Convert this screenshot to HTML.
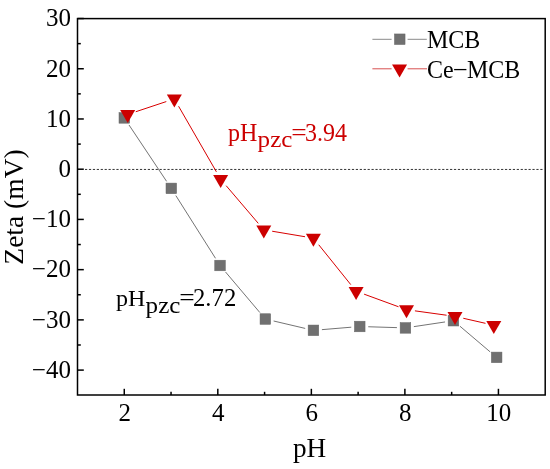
<!DOCTYPE html>
<html><head><meta charset="utf-8"><style>
html,body{margin:0;padding:0;background:#fff;}
svg{display:block;}
text{font-family:"Liberation Serif","Times New Roman",serif;fill:#000;}
</style></head><body>
<svg width="550" height="469" viewBox="0 0 550 469">
<rect width="550" height="469" fill="#fff"/>
<line x1="85" y1="169.45" x2="543" y2="169.45" stroke="#333" stroke-width="1" stroke-dasharray="2.2 1.725"/>
<line x1="129.01" y1="124.97" x2="166.59" y2="181.33" stroke="#747474" stroke-width="1"/>
<line x1="175.84" y1="195.58" x2="215.51" y2="258.32" stroke="#747474" stroke-width="1"/>
<line x1="225.54" y1="271.99" x2="259.86" y2="312.56" stroke="#747474" stroke-width="1"/>
<line x1="273.62" y1="320.99" x2="305.18" y2="328.41" stroke="#747474" stroke-width="1"/>
<line x1="321.92" y1="329.65" x2="351.28" y2="327.2" stroke="#747474" stroke-width="1"/>
<line x1="368.25" y1="326.76" x2="396.95" y2="327.64" stroke="#747474" stroke-width="1"/>
<line x1="413.86" y1="326.64" x2="445.04" y2="321.96" stroke="#747474" stroke-width="1"/>
<line x1="459.93" y1="326.2" x2="490.17" y2="351.9" stroke="#747474" stroke-width="1"/>
<rect x="119" y="112.6" width="10.6" height="10.6" fill="#707070" stroke="#666" stroke-width="0.5"/>
<rect x="166" y="183.1" width="10.6" height="10.6" fill="#707070" stroke="#666" stroke-width="0.5"/>
<rect x="214.75" y="260.2" width="10.6" height="10.6" fill="#707070" stroke="#666" stroke-width="0.5"/>
<rect x="260.05" y="313.75" width="10.6" height="10.6" fill="#707070" stroke="#666" stroke-width="0.5"/>
<rect x="308.15" y="325.05" width="10.6" height="10.6" fill="#707070" stroke="#666" stroke-width="0.5"/>
<rect x="354.45" y="321.2" width="10.6" height="10.6" fill="#707070" stroke="#666" stroke-width="0.5"/>
<rect x="400.15" y="322.6" width="10.6" height="10.6" fill="#707070" stroke="#666" stroke-width="0.5"/>
<rect x="448.15" y="315.4" width="10.6" height="10.6" fill="#707070" stroke="#666" stroke-width="0.5"/>
<rect x="491.35" y="352.1" width="10.6" height="10.6" fill="#707070" stroke="#666" stroke-width="0.5"/>
<line x1="135.76" y1="111.74" x2="166.29" y2="101.57" stroke="#d80000" stroke-width="1"/>
<line x1="178.59" y1="106.24" x2="216.41" y2="171.87" stroke="#d80000" stroke-width="1"/>
<line x1="226.17" y1="185.7" x2="258.28" y2="223.36" stroke="#d80000" stroke-width="1"/>
<line x1="272.18" y1="231.23" x2="305.02" y2="236.73" stroke="#d80000" stroke-width="1"/>
<line x1="318.73" y1="244.75" x2="350.77" y2="284.61" stroke="#d80000" stroke-width="1"/>
<line x1="364.08" y1="294.15" x2="398.52" y2="306.76" stroke="#d80000" stroke-width="1"/>
<line x1="414.92" y1="310.85" x2="446.58" y2="315.23" stroke="#d80000" stroke-width="1"/>
<line x1="463.29" y1="318.28" x2="485.51" y2="323.34" stroke="#d80000" stroke-width="1"/>
<polygon points="120.2,110.1 135.2,110.1 127.7,123.09" fill="#cc0000"/>
<polygon points="166.85,94.55 181.85,94.55 174.35,107.54" fill="#cc0000"/>
<polygon points="213.15,174.9 228.15,174.9 220.65,187.89" fill="#cc0000"/>
<polygon points="256.3,225.5 271.3,225.5 263.8,238.49" fill="#cc0000"/>
<polygon points="305.9,233.8 320.9,233.8 313.4,246.79" fill="#cc0000"/>
<polygon points="348.6,286.9 363.6,286.9 356.1,299.89" fill="#cc0000"/>
<polygon points="399,305.35 414,305.35 406.5,318.34" fill="#cc0000"/>
<polygon points="447.5,312.06 462.5,312.06 455,325.05" fill="#cc0000"/>
<polygon points="486.3,320.9 501.3,320.9 493.8,333.89" fill="#cc0000"/>
<rect x="77.5" y="18.6" width="467.7" height="376.4" fill="none" stroke="#000" stroke-width="1.5"/>
<line x1="77.5" y1="370.1" x2="83.8" y2="370.1" stroke="#000" stroke-width="1.5"/>
<line x1="77.5" y1="319.88" x2="83.8" y2="319.88" stroke="#000" stroke-width="1.5"/>
<line x1="77.5" y1="269.65" x2="83.8" y2="269.65" stroke="#000" stroke-width="1.5"/>
<line x1="77.5" y1="219.42" x2="83.8" y2="219.42" stroke="#000" stroke-width="1.5"/>
<line x1="77.5" y1="169.2" x2="83.8" y2="169.2" stroke="#000" stroke-width="1.5"/>
<line x1="77.5" y1="118.97" x2="83.8" y2="118.97" stroke="#000" stroke-width="1.5"/>
<line x1="77.5" y1="68.75" x2="83.8" y2="68.75" stroke="#000" stroke-width="1.5"/>
<line x1="77.5" y1="18.52" x2="83.8" y2="18.52" stroke="#000" stroke-width="1.5"/>
<line x1="77.5" y1="344.99" x2="80.8" y2="344.99" stroke="#000" stroke-width="1.5"/>
<line x1="77.5" y1="294.76" x2="80.8" y2="294.76" stroke="#000" stroke-width="1.5"/>
<line x1="77.5" y1="244.54" x2="80.8" y2="244.54" stroke="#000" stroke-width="1.5"/>
<line x1="77.5" y1="194.31" x2="80.8" y2="194.31" stroke="#000" stroke-width="1.5"/>
<line x1="77.5" y1="144.09" x2="80.8" y2="144.09" stroke="#000" stroke-width="1.5"/>
<line x1="77.5" y1="93.86" x2="80.8" y2="93.86" stroke="#000" stroke-width="1.5"/>
<line x1="77.5" y1="43.64" x2="80.8" y2="43.64" stroke="#000" stroke-width="1.5"/>
<line x1="124.27" y1="395.0" x2="124.27" y2="388.8" stroke="#000" stroke-width="1.5"/>
<line x1="217.81" y1="395.0" x2="217.81" y2="388.8" stroke="#000" stroke-width="1.5"/>
<line x1="311.35" y1="395.0" x2="311.35" y2="388.8" stroke="#000" stroke-width="1.5"/>
<line x1="404.89" y1="395.0" x2="404.89" y2="388.8" stroke="#000" stroke-width="1.5"/>
<line x1="498.43" y1="395.0" x2="498.43" y2="388.8" stroke="#000" stroke-width="1.5"/>
<line x1="171.04" y1="395.0" x2="171.04" y2="391.8" stroke="#000" stroke-width="1.5"/>
<line x1="264.58" y1="395.0" x2="264.58" y2="391.8" stroke="#000" stroke-width="1.5"/>
<line x1="358.12" y1="395.0" x2="358.12" y2="391.8" stroke="#000" stroke-width="1.5"/>
<line x1="451.66" y1="395.0" x2="451.66" y2="391.8" stroke="#000" stroke-width="1.5"/>
<text x="70.9" y="377.9" text-anchor="end" font-size="25">−40</text>
<text x="70.9" y="327.68" text-anchor="end" font-size="25">−30</text>
<text x="70.9" y="277.45" text-anchor="end" font-size="25">−20</text>
<text x="70.9" y="227.22" text-anchor="end" font-size="25">−10</text>
<text x="70.9" y="177" text-anchor="end" font-size="25">0</text>
<text x="70.9" y="126.77" text-anchor="end" font-size="25">10</text>
<text x="70.9" y="76.55" text-anchor="end" font-size="25">20</text>
<text x="70.9" y="26.32" text-anchor="end" font-size="25">30</text>
<text x="124.67" y="421.4" text-anchor="middle" font-size="25">2</text>
<text x="218.21" y="421.4" text-anchor="middle" font-size="25">4</text>
<text x="311.75" y="421.4" text-anchor="middle" font-size="25">6</text>
<text x="405.29" y="421.4" text-anchor="middle" font-size="25">8</text>
<text x="498.83" y="421.4" text-anchor="middle" font-size="25">10</text>
<text x="309.6" y="457.4" text-anchor="middle" font-size="27.2">pH</text>
<text transform="translate(23.4,207) rotate(-90)" text-anchor="middle" font-size="27.5">Zeta (mV)</text>
<text transform="translate(228,140.5) scale(1,1.06)" font-size="24" style="fill:#cc0000">pH</text>
<text transform="translate(257.6,146.9) scale(1.09,1)" font-size="23" style="fill:#cc0000">pzc</text>
<text transform="translate(291.2,140.5) scale(1.14,1.03)" font-size="24" style="fill:#cc0000">=</text>
<text transform="translate(305,140.5) scale(1.0,1.08)" font-size="24" style="fill:#cc0000">3.94</text>
<text transform="translate(116,306.4) scale(1,1.0)" font-size="24" style="fill:#000">pH</text>
<text transform="translate(145.6,312.8) scale(1.09,1)" font-size="23" style="fill:#000">pzc</text>
<text transform="translate(179.2,306.4) scale(1.14,1.03)" font-size="24" style="fill:#000">=</text>
<text transform="translate(193,306.4) scale(1.03,1.04)" font-size="24" style="fill:#000">2.72</text>
<line x1="372.4" y1="39.3" x2="391.6" y2="39.3" stroke="#8a8a8a" stroke-width="1"/>
<line x1="407.6" y1="39.3" x2="426.8" y2="39.3" stroke="#8a8a8a" stroke-width="1"/>
<rect x="394.45" y="33.95" width="10.6" height="10.6" fill="#707070" stroke="#666" stroke-width="0.5"/>
<line x1="372.4" y1="68.8" x2="391.6" y2="68.8" stroke="#d85050" stroke-width="1"/>
<line x1="407.6" y1="68.8" x2="427" y2="68.8" stroke="#d85050" stroke-width="1"/>
<polygon points="392.05,64.4 407.05,64.4 399.55,77.39" fill="#cc0000"/>
<text transform="translate(427,47.8) scale(1,1.04)" font-size="24">MCB</text>
<text transform="translate(427,77.6) scale(1,1.04)" font-size="24">Ce<tspan dx="0.5" dy="-1.6">–</tspan><tspan dx="0.9" dy="1.6">MCB</tspan></text>
</svg>
</body></html>
